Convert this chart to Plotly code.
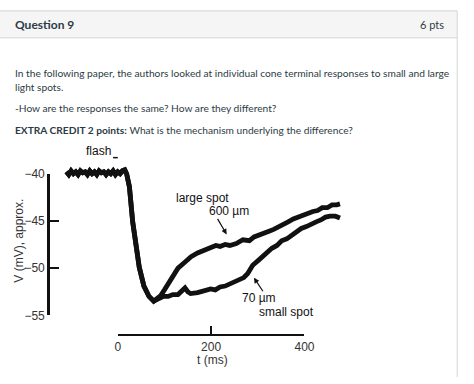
import plotly.graph_objects as go

W, H = 474, 384

# ---- data ----
shared_t = [-110, -105, -100, -95, -90, -85, -80, -75, -70, -65, -60, -55, -50, -45, -40, -35, -30, -25,
            -20, -15, -10, -5, 0, 5, 10, 15, 19, 25, 32, 39, 46, 56, 67, 77]
shared_v = [-39.8, -40.1, -39.7, -40.0, -39.8, -40.1, -39.7, -39.9, -39.8, -40.1, -39.7, -40.0, -39.8, -40.1,
            -39.7, -39.9, -39.8, -40.1, -39.8, -40.0, -39.7, -40.1, -39.8, -40.0, -39.7, -39.6, -40.0,
            -41.4, -45.1, -47.9, -49.9, -51.9, -53.0, -53.5]

large_t = [85, 92, 100, 108, 120, 129, 143, 157, 171, 185, 199, 210, 219, 230, 240, 254, 268, 282, 292,
           303, 314, 324, 334, 344, 355, 365, 376, 386, 397, 407, 418, 428, 438, 449, 459, 469, 476]
large_v = [-53.2, -52.9, -52.3, -51.7, -50.8, -50.0, -49.4, -48.8, -48.4, -48.1, -47.9, -47.6, -47.7,
           -47.5, -47.6, -47.4, -47.0, -47.1, -46.7, -46.5, -46.4, -46.1, -45.9, -45.6, -45.3, -45.1,
           -44.8, -44.6, -44.3, -44.1, -44.0, -43.9, -43.6, -43.6, -43.3, -43.3, -43.2]

small_t = [87, 98, 108, 118, 129, 137, 144, 150, 156, 171, 185, 199, 209, 219, 230, 240, 251, 261, 270,
           278, 289, 303, 317, 330, 341, 351, 362, 372, 383, 393, 404, 414, 425, 435, 445, 455, 466, 476]
small_v = [-53.3, -53.0, -53.0, -52.8, -52.8, -52.5, -52.1, -52.5, -52.7, -52.6, -52.4, -52.2, -52.3,
           -52.0, -51.9, -51.7, -51.5, -51.2, -51.0, -50.6, -49.7, -49.1, -48.5, -47.9, -47.6, -47.1,
           -46.9, -46.5, -46.1, -45.8, -45.6, -45.3, -45.1, -44.9, -44.6, -44.5, -44.5, -44.7]

flash_t = [-10, 0]
x_ticks = [0, 200, 400]
y_ticks = [-40, -45, -50, -55]

# ---- pixel helpers for layout ----
def px(x):
    return x / W

def py(y):
    return 1 - y / H

# data-axis ranges matched to pixel geometry (t=0 at 118px, 0.48 px/ms; -40 mV at 173px, 9.8 px/mV)
X0, SX = 118, 0.48
Y0, SY = 173, 9.8
xr = [(0 - X0) / SX, (W - X0) / SX]
yr = [-40 - (H - Y0) / SY, -40 + Y0 / SY]

ink = "#111111"
fig = go.Figure()
fig.add_trace(go.Scatter(x=shared_t + large_t, y=shared_v + large_v, mode="lines",
                         line=dict(color=ink, width=4.8), showlegend=False, hoverinfo="skip"))
fig.add_trace(go.Scatter(x=shared_t + small_t, y=shared_v + small_v, mode="lines",
                         line=dict(color=ink, width=4.8), showlegend=False, hoverinfo="skip"))
# flash bar
fig.add_trace(go.Scatter(x=flash_t, y=[-38.3, -38.3], mode="lines", line=dict(color=ink, width=1.5),
                         showlegend=False, hoverinfo="skip"))
# invisible anchors so the separate scale-bar axes are drawn
fig.add_trace(go.Scatter(x=x_ticks, y=[0] * len(x_ticks), xaxis="x2", yaxis="y2", mode="markers",
                         marker=dict(opacity=0), showlegend=False, hoverinfo="skip"))
fig.add_trace(go.Scatter(x=[0] * len(y_ticks), y=y_ticks, xaxis="x3", yaxis="y3", mode="markers",
                         marker=dict(opacity=0), showlegend=False, hoverinfo="skip"))

chart_font = dict(family="Liberation Sans, Arial", size=12, color="#333333")
text_font = "Lato, Noto Sans, sans-serif"
txt = "#2d3b45"

fig.update_layout(
    width=W, height=H, margin=dict(l=0, r=0, t=0, b=0),
    paper_bgcolor="white", plot_bgcolor="rgba(0,0,0,0)",
    xaxis=dict(domain=[0, 1], range=xr, visible=False),
    yaxis=dict(domain=[0, 1], range=yr, visible=False),
    xaxis2=dict(domain=[px(118), px(310)], anchor="y2", range=[0, 400], tickvals=x_ticks,
                ticks="inside", ticklen=8, tickwidth=2, tickcolor=ink, showline=True, linewidth=2.5,
                linecolor=ink, showgrid=False, zeroline=False, tickfont=chart_font),
    yaxis2=dict(domain=[1 - 339 / H, 0.3], anchor="x2", range=[-1, 1], visible=False),
    yaxis3=dict(domain=[py(320), py(173)], anchor="x3", range=[-55, -40], tickvals=y_ticks,
                ticks="inside", ticklen=9, tickwidth=2, tickcolor=ink, showline=True, linewidth=2.5,
                linecolor=ink, showgrid=False, zeroline=False, tickfont=chart_font),
    xaxis3=dict(domain=[px(48), 0.5], anchor="y3", range=[-1, 1], visible=False),
)

# header box and card border
fig.add_shape(type="rect", xref="paper", yref="paper", x0=-0.01, x1=px(467), y0=py(32), y1=py(4),
              fillcolor="#f5f5f5", line=dict(color="#d5d5d5", width=1), layer="below")
fig.add_shape(type="line", xref="paper", yref="paper", x0=px(467), x1=px(467), y0=0, y1=py(32),
              line=dict(color="#d5d5d5", width=1))

def label(x, y, text, size, anchor="left", family=text_font, color=txt, angle=0):
    fig.add_annotation(xref="paper", yref="paper", x=px(x), y=py(y), text=text, showarrow=False,
                       xanchor=anchor, yanchor="middle", textangle=angle,
                       font=dict(family=family, size=size, color=color))

label(10, 18, "<b>Question 9</b>", 12)
label(455, 18, "6 pts", 11, anchor="right")
label(10, 68, "In the following paper, the authors looked at individual cone terminal responses to small and large", 10.2)
label(10, 83, "light spots.", 10.2)
label(10, 105, "-How are the responses the same? How are they different?", 10.2)
label(10, 128, "<b>EXTRA CREDIT 2 points:</b> What is the mechanism underlying the difference?", 10.2)

cf = "Liberation Sans, Arial"
label(98, 149, "flash", 12, anchor="center", family=cf, color=ink)
label(205, 198, "large spot", 12, anchor="center", family=cf, color=ink)
label(232, 212, "600 µm", 12, anchor="center", family=cf, color=ink)
label(263, 302, "70 µm", 12, anchor="center", family=cf, color=ink)
label(291, 317, "small spot", 12, anchor="center", family=cf, color=ink)
# axis titles
label(17, 243, "V (mV), approx.", 12, anchor="center", family=cf, color="#333333", angle=-90)
label(215, 366, "t (ms)", 12, anchor="center", family=cf, color="#333333")

# arrows
def arrow(x_tip, y_tip, x_tail, y_tail):
    fig.add_annotation(xref="paper", yref="paper", x=px(x_tip), y=py(y_tip),
                       ax=x_tail - x_tip, ay=y_tail - y_tip, axref="pixel", ayref="pixel",
                       showarrow=True, arrowhead=2, arrowsize=0.9, arrowwidth=1.2, arrowcolor=ink, text="")

arrow(230, 236, 220, 219)
arrow(258, 281, 268, 296)

fig.write_html("out.html", config={"displayModeBar": False, "staticPlot": True},
               post_script="document.body.style.margin='0';")
